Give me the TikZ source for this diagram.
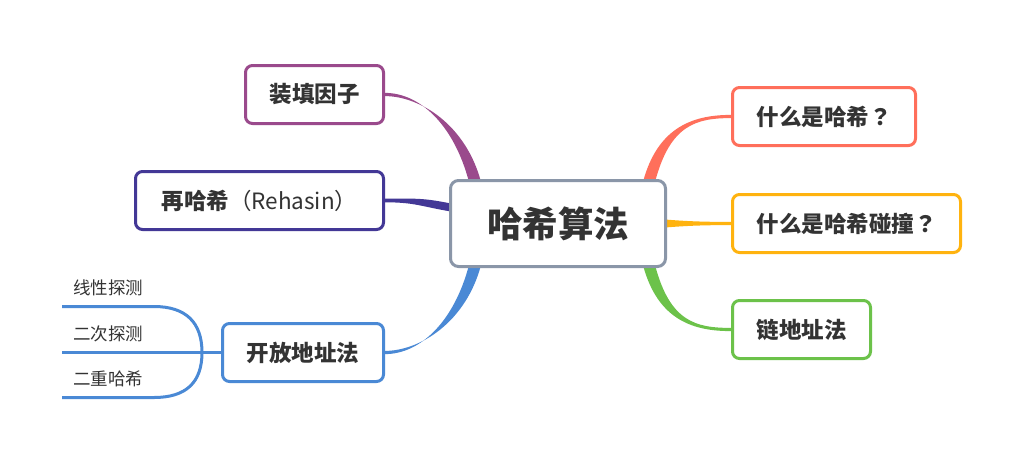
\documentclass[tikz,border=0pt]{standalone}
\usepackage{fontspec}
\setmainfont{Noto Sans CJK SC}
\newfontfamily\tcfont{Noto Sans CJK TC}
\usetikzlibrary{calc,backgrounds}
\definecolor{txt}{HTML}{333333}
\definecolor{cgray}{HTML}{8A96A8}
\definecolor{cred}{HTML}{FF6F5B}
\definecolor{corange}{HTML}{FFB30F}
\definecolor{cgreen}{HTML}{6CC24A}
\definecolor{cpurple}{HTML}{9A4A8C}
\definecolor{cdark}{HTML}{433896}
\definecolor{cblue}{HTML}{4A89D5}
\newcommand\qm{{\tcfont？}}
\tikzset{
  topicbox/.style={draw=#1, line width=3pt, rounded corners=7pt, fill=white,
    text=txt, inner sep=0pt, minimum height=58pt, font=\fontsize{22.5}{25}\selectfont\bfseries},
  centerbox/.style={draw=cgray, line width=3pt, rounded corners=8pt, fill=white,
    text=txt, inner sep=0pt, minimum width=215pt, minimum height=86pt,
    font=\fontsize{35.5}{38}\selectfont\bfseries},
  subline/.style={draw=cblue, line width=3pt},
  sublabel/.style={text=txt, inner sep=0pt, anchor=west, font=\fontsize{17.5}{19}\selectfont}
}
\begin{document}
\begin{tikzpicture}[x=1pt,y=-1pt]
\useasboundingbox (0,0) rectangle (1025,461);
% nodes
\node[centerbox] (c) at (558,223.5) {哈希算法};
\node[topicbox=cred, minimum width=183pt] (r1) at (824,116.5) {什么是哈希\qm};
\node[topicbox=corange, minimum width=228pt] (r2) at (846.5,223.5) {什么是哈希碰撞\qm};
\node[topicbox=cgreen, minimum width=138pt] (r3) at (801.5,329.5) {链地址法};
\node[topicbox=cpurple, minimum width=138pt] (l1) at (314.5,94.5) {装填因子};
\node[topicbox=cdark, minimum width=248pt] (l2) at (259.5,200.5) {再哈希{\mdseries（Rehasin）}};
\node[topicbox=cblue, minimum width=161pt] (l3) at (303,352.5) {开放地址法};
% connectors
\begin{pgfonlayer}{background}
\fill[white] (0,0) rectangle (1025,461);
% red
\fill[cred] ($(c.north east)+(-24,3)$) .. controls +(15,-57) and +(-35,0) .. ($(r1.west)+(0,-1.6)$)
  -- ($(r1.west)+(0,1.6)$) .. controls +(-35,0) and +(15,-57) .. ($(c.north east)+(-12,3)$) -- cycle;
% orange
\fill[corange] ($(c.east)+(-2,-4)$) .. controls +(25,2) and +(-25,0) .. ($(r2.west)+(0,-1.6)$)
  -- ($(r2.west)+(0,1.6)$) .. controls +(-25,0) and +(25,-2) .. ($(c.east)+(-2,4)$) -- cycle;
% green
\fill[cgreen] ($(c.south east)+(-24,-3)$) .. controls +(15,57) and +(-35,0) .. ($(r3.west)+(0,1.6)$)
  -- ($(r3.west)+(0,-1.6)$) .. controls +(-35,0) and +(15,57) .. ($(c.south east)+(-12,-3)$) -- cycle;
% purple
\fill[cpurple] ($(c.north west)+(20,3)$) .. controls +(-15,-57) and +(35,0) .. ($(l1.east)+(0,-1.6)$)
  -- ($(l1.east)+(0,1.6)$) .. controls +(35,0) and +(-15,-57) .. ($(c.north west)+(32,3)$) -- cycle;
% dark
\fill[cdark] ($(c.west)+(2,-20)$) .. controls +(-30,-6) and +(30,0) .. ($(l2.east)+(0,-1.8)$)
  -- ($(l2.east)+(0,1.8)$) .. controls +(30,0) and +(-30,-5) .. ($(c.west)+(2,-12)$) -- cycle;
% blue
\fill[cblue] ($(c.south west)+(20,-3)$) .. controls +(-15,57) and +(35,0) .. ($(l3.east)+(0,1.6)$)
  -- ($(l3.east)+(0,-1.6)$) .. controls +(35,0) and +(-15,57) .. ($(c.south west)+(32,-3)$) -- cycle;
\end{pgfonlayer}
% sub branches
\coordinate (t1) at (62,306.5);
\coordinate (t2) at (62,352.5);
\coordinate (t3) at (62,397.5);
\draw[subline] (l3.west) -- ++(-19,0) coordinate (j);
\draw[subline] (j) -- (t2);
\draw[subline, line cap=butt] (j) .. controls +(0,-30) and +(32,0) .. ($(t1)+(92,0)$) -- (t1);
\draw[subline, line cap=butt] (j) .. controls +(0,30) and +(32,0) .. ($(t3)+(92,0)$) -- (t3);
\node[sublabel] (s1) at (73,288) {线性探测};
\node[sublabel] (s2) at (73,334) {二次探测};
\node[sublabel] (s3) at (73,379) {二重哈希};
\end{tikzpicture}
\end{document}
